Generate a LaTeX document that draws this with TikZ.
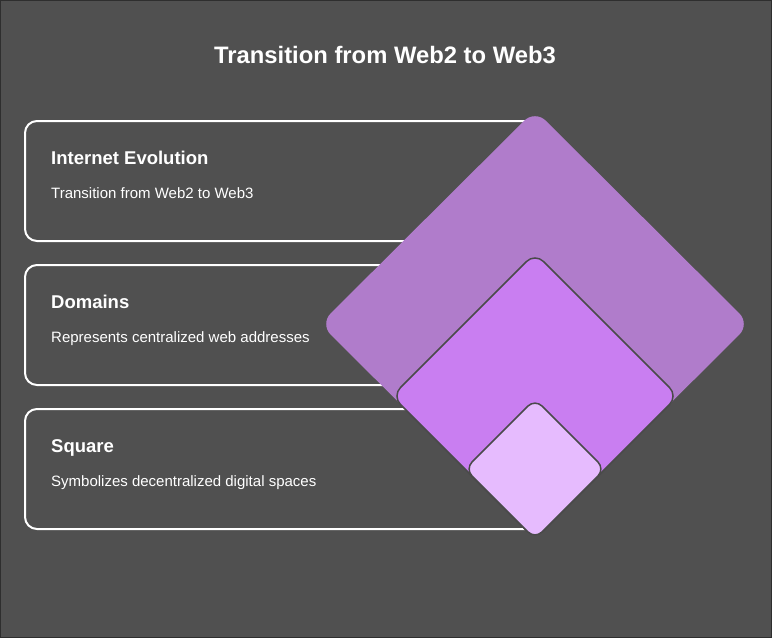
\documentclass[tikz,border=0pt]{standalone}
\usepackage{fontspec}
\setmainfont{Liberation Sans}
\definecolor{bg}{HTML}{505050}
\definecolor{frame}{HTML}{2E2E2E}
\definecolor{dbig}{HTML}{B07CCB}
\definecolor{dmid}{HTML}{C97EF1}
\definecolor{dsmall}{HTML}{E6BBFE}
\definecolor{dline}{HTML}{4A4A4A}
\tikzset{
  card/.style={draw=white, line width=2pt, rounded corners=12pt},
  head/.style={anchor=base west, text=white, font=\fontsize{18.5}{22}\selectfont\bfseries, inner sep=0pt},
  sub/.style={anchor=base west, text=white, font=\fontsize{15}{18}\selectfont, inner sep=0pt},
}
\begin{document}
\begin{tikzpicture}[x=1pt,y=-1pt]
\useasboundingbox (0,0) rectangle (772,638);
\fill[bg] (0,0) rectangle (772,638);
\draw[frame, line width=1.2pt] (0.6,0.6) rectangle (771.4,637.4);
\node[anchor=base, text=white, font=\fontsize{23.8}{28}\selectfont\bfseries, inner sep=0pt] (title) at (385,63) {Transition from Web2 to Web3};
% cards
\draw[card] (25,121) rectangle (540,241);
\draw[card] (25,265) rectangle (540,385);
\draw[card] (25,409) rectangle (540,529);
\node[head] (h1) at (51,164) {Internet Evolution};
\node[sub] (s1) at (51,198) {Transition from Web2 to Web3};
\node[head] (h2) at (51,308) {Domains};
\node[sub] (s2) at (51,342) {Represents centralized web addresses};
\node[head] (h3) at (51,452) {Square};
\node[sub] (s3) at (51,486) {Symbolizes decentralized digital spaces};
% diamonds
\fill[dbig, rounded corners=15pt] (535,110) -- (750,324) -- (535,538) -- (320,324) -- cycle;
\filldraw[fill=dmid, draw=dline, line width=1.5pt, rounded corners=12pt] (535,253) -- (678,396) -- (535,539) -- (392,396) -- cycle;
\filldraw[fill=dsmall, draw=dline, line width=1.5pt, rounded corners=10pt] (535,399) -- (605,469) -- (535,539) -- (465,469) -- cycle;
\end{tikzpicture}
\end{document}
